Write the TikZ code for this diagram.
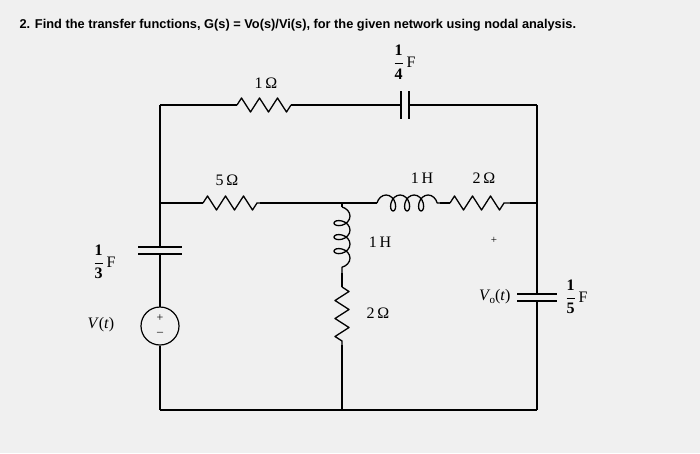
\documentclass[tikz,border=0pt]{standalone}
\usepackage{fontspec}
\setmainfont{Liberation Serif}
\newfontfamily\titlefont{Liberation Sans}
\usetikzlibrary{decorations.pathmorphing}
\newcommand{\myfrac}[2]{$\displaystyle\frac{\mathbf{#1}}{\mathbf{#2}}$}
\begin{document}
\begin{tikzpicture}[x=1pt,y=-1pt,
  wire/.style={line width=1.3pt,line join=round},
  res/.style={wire,decorate,decoration={zigzag,amplitude=7pt,segment length=18pt}},
  ind/.style={wire,decorate,decoration={coil,amplitude=8pt,segment length=14pt,aspect=0.7}},
  plate/.style={line width=2pt},
  lbl/.style={font=\fontsize{16}{18}\selectfont}]
\fill[black!6] (0,0) rectangle (700,453);
\useasboundingbox (0,0) rectangle (700,453);
\node[anchor=west,font=\titlefont\bfseries\fontsize{12.8}{14}\selectfont] (title) at (16,25) {2. Find the transfer functions, G(s) = Vo(s)/Vi(s), for the given network using nodal analysis.};
% coordinates
\coordinate (TL) at (160,105);
\coordinate (TR) at (537,105);
\coordinate (ML) at (160,203);
\coordinate (MM) at (342,203);
\coordinate (MR) at (537,203);
\coordinate (BL) at (160,410);
\coordinate (BM) at (342,410);
\coordinate (BR) at (537,410);
% top branch
\draw[wire] (TL) -- (237,105);
\draw[res] (237,105) -- (291,105);
\draw[wire] (291,105) -- (401,105);
\draw[wire] (409,105) -- (TR);
\draw[plate] (401,91) -- (401,119);
\draw[plate] (409,91) -- (409,119);
\node[lbl] (r1) at (266,83) {1\,Ω};
\node[lbl,anchor=west] (c4) at (390,62) {\myfrac{1}{4}\,F};
% middle branch
\draw[wire] (ML) -- (203,203);
\draw[res] (203,203) -- (260,203);
\draw[wire] (260,203) -- (377,203);
\draw[ind] (377,203) -- (440,203);
\draw[wire] (440,203) -- (450,203);
\draw[res] (450,203) -- (510,203);
\draw[wire] (510,203) -- (MR);
\node[lbl] (r5) at (227,180) {5\,Ω};
\node[lbl] (l1) at (422,178) {1\,H};
\node[lbl] (r2a) at (484,178) {2\,Ω};
% middle vertical
\draw[wire] (MM) -- (342,207);
\draw[ind] (342,207) -- (342,273);
\draw[wire] (342,273) -- (342,287);
\draw[res] (342,287) -- (342,345);
\draw[wire] (342,345) -- (BM);
\node[lbl] (l2) at (380,242) {1\,H};
\node[lbl] (r2b) at (378,313) {2\,Ω};
% left side
\draw[wire] (TL) -- (160,247);
\draw[plate] (138,247) -- (182,247);
\draw[plate] (138,254) -- (182,254);
\draw[wire] (160,254) -- (160,307);
\node[circle,draw,line width=1.2pt,minimum size=38pt,inner sep=0pt] (src) at (160,326) {};
\node[font=\fontsize{12}{12}\selectfont] (sp) at (160,318) {+};
\node[font=\fontsize{12}{12}\selectfont] (sm) at (160,334) {--};
\draw[wire] (src.south) -- (BL);
\node[lbl,anchor=west] (c3) at (90,262) {\myfrac{1}{3}\,F};
\node[lbl,anchor=west] (vt) at (84,325) {\textit{V}(\textit{t})};
% right side
\draw[wire] (TR) -- (537,294);
\draw[plate] (517,294) -- (557,294);
\draw[plate] (517,301) -- (557,301);
\draw[wire] (537,301) -- (BR);
\node[lbl,anchor=west] (c5) at (562,297) {\myfrac{1}{5}\,F};
\node[lbl,anchor=east] (vo) at (514,297) {\textit{V}\kern-1pt\raisebox{-3pt}{\fontsize{11}{11}\selectfont o}(\textit{t})};
\node[font=\fontsize{11}{11}\selectfont] (plus) at (494,240) {+};
% bottom
\draw[wire] (BL) -- (BR);
\end{tikzpicture}
\end{document}
